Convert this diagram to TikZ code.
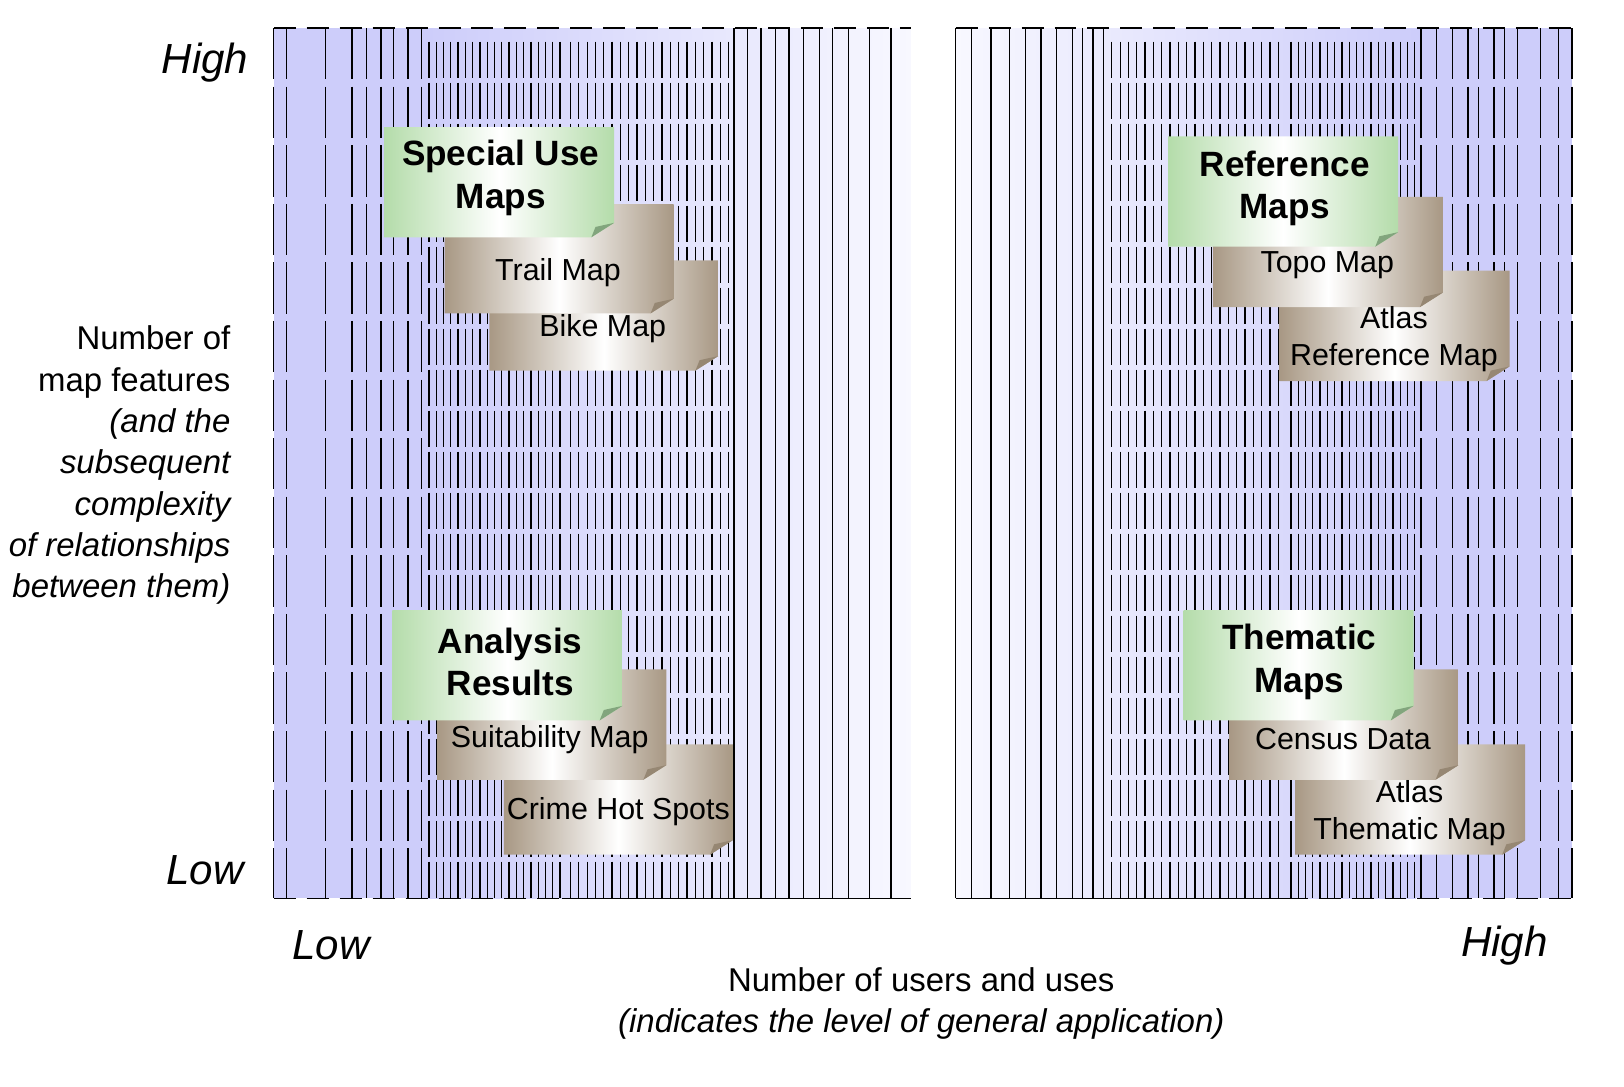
\documentclass[tikz,border=0pt]{standalone}
\usepackage{fontspec}
\setmainfont{Liberation Sans}
\definecolor{lavc}{RGB}{205,205,250}
\definecolor{palec}{RGB}{248,248,255}
\definecolor{brownc}{RGB}{168,152,132}
\definecolor{brownd}{RGB}{150,135,115}
\definecolor{greenc}{RGB}{180,220,170}
\definecolor{greend}{RGB}{130,165,125}
\begin{document}
\begin{tikzpicture}[x=0.01cm,y=-0.01cm,
  vl/.style={line width=0.35pt,black},
  seg/.style={vl,dash pattern=on 10pt off 1.2pt},
  title/.style={font=\fontsize{9.6}{11.6}\selectfont\bfseries,align=center},
  lbl/.style={font=\fontsize{8.3}{10}\selectfont,align=center},
  ax/.style={font=\fontsize{11.5}{13}\selectfont\itshape}]
\useasboundingbox (0,0) rectangle (1560,1044);
% backgrounds
\fill[lavc] (263,27) rectangle (410,863);
\shade[left color=lavc,right color=palec] (410,27) rectangle (875,863);
\fill[lavc] (1360,27) rectangle (1510,863);
\shade[right color=lavc,left color=palec] (918,27) rectangle (1360,863);
% lines left
\foreach \x in {263,275,313,338,352,366,378,392,405}
  \draw[vl,dash pattern=on 14pt off 2pt] (\x,27) -- (\x,863);
\foreach \x in {412,419,...,540}
  \draw[seg] (\x,40) -- (\x,863);
\foreach \x in {548,556,...,700}
  \draw[seg] (\x,40) -- (\x,863);
\foreach \x in {705,718,731,745,758,772,787,800,815,835,856}
  \draw[vl] (\x,27) -- (\x,863);
\draw[vl,dash pattern=on 6pt off 3pt] (263,27) -- (875,27);
\draw[vl,dash pattern=on 6pt off 3pt] (263,863) -- (540,863);
\draw[vl] (540,863) -- (875,863);
% lines right
\foreach \x in {918,933,952,970,985,1000,1015,1030,1040,1050,1060}
  \draw[vl] (\x,27) -- (\x,863);
\foreach \x in {1068,1076,...,1235}
  \draw[seg] (\x,40) -- (\x,863);
\foreach \x in {1240,1247,...,1360}
  \draw[seg] (\x,40) -- (\x,863);
\foreach \x in {1365,1380,1395,1410,1420,1435,1445,1458,1480,1497,1510}
  \draw[vl,dash pattern=on 14pt off 2pt] (\x,27) -- (\x,863);
\draw[vl,dash pattern=on 6pt off 3pt] (918,27) -- (1510,27);
\draw[vl] (918,863) -- (1235,863);
\draw[vl,dash pattern=on 6pt off 3pt] (1235,863) -- (1510,863);
% card macros
\newcommand\browncard[5]{%
  \shade[left color=brownc,right color=brownc,middle color=white]
   (#1,#2) -- (#3,#2) -- (#3,#4-14) -- (#3-22,#4) -- (#1,#4) -- cycle;
  \fill[brownd] (#3,#4-14) -- (#3-22,#4) -- (#3-18,#4-10) -- cycle;
  \coordinate (#5) at (#1,#2);}
\newcommand\greencard[5]{%
  \shade[left color=greenc,right color=greenc,middle color=white]
   (#1,#2) -- (#3,#2) -- (#3,#4-14) -- (#3-22,#4) -- (#1,#4) -- cycle;
  \fill[greend] (#3,#4-14) -- (#3-22,#4) -- (#3-18,#4-10) -- cycle;
  \coordinate (#5) at (#1,#2);}
% Special use
\browncard{470}{250}{690}{356}{bike}
\browncard{427}{196}{647}{301}{trail}
\greencard{369}{122}{590}{228}{spec}
\node[title] (tspec) at (481,171) {Special Use\\Maps};
\node[lbl] (ttrail) at (536,262) {Trail Map};
\node[lbl] (tbike) at (579,316) {Bike Map};
% Analysis
\browncard{484}{715}{704}{821}{crime}
\browncard{420}{643}{640}{749}{suit}
\greencard{377}{586}{598}{692}{anal}
\node[title] (tanal) at (490,636) {Analysis\\Results};
\node[lbl] (tsuit) at (528,710) {Suitability Map};
\node[lbl] (tcrime) at (594,780) {Crime Hot Spots};
% Reference
\browncard{1229}{260}{1450}{366}{atlasr}
\browncard{1165}{189}{1386}{295}{topo}
\greencard{1122}{131}{1343}{237}{ref}
\node[title] (tref) at (1234,181) {Reference\\Maps};
\node[lbl] (ttopo) at (1275,255) {Topo Map};
\node[lbl] (tatlasr) at (1339,326) {Atlas\\Reference Map};
% Thematic
\browncard{1244}{715}{1465}{821}{atlast}
\browncard{1181}{643}{1401}{749}{census}
\greencard{1137}{586}{1358}{692}{them}
\node[title] (tthem) at (1248,636) {Thematic\\Maps};
\node[lbl] (tcensus) at (1290,710) {Census Data};
\node[lbl] (tatlast) at (1354,781) {Atlas\\Thematic Map};
% axes text
\node[ax] (yh) at (197,60) {High};
\node[ax] (yl) at (197,836) {Low};
\node[ax] (xl) at (318,908) {Low};
\node[ax] (xh) at (1445,908) {High};
\node[font=\fontsize{9}{11.3}\selectfont,align=right,anchor=east,inner sep=0pt] (ylab) at (222,447)
 {Number of\\map features\\\itshape (and the\\\itshape subsequent\\\itshape complexity\\\itshape of relationships\\\itshape between them)};
\node[font=\fontsize{9}{11.3}\selectfont,align=center] (xlab) at (885,964)
 {Number of users and uses\\\itshape (indicates the level of general application)};
\end{tikzpicture}
\end{document}
